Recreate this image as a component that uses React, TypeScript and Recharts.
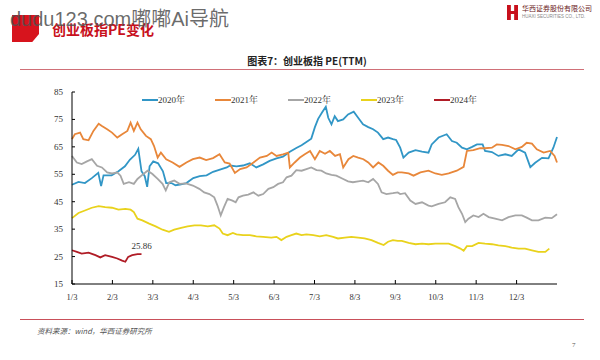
import { LineChart, Line, XAxis, YAxis, Legend } from "recharts";

// trading-day position (tenths of a month from 1/3) and PE value
const PE_2020: [number, number][] = [
  [0, 51.2], [1.6, 52.2], [3.2, 51.8], [4.9, 53.6], [6.5, 55.5], [7.2, 50.7], [7.8, 54.6], [9.8, 54.6],
  [11.5, 56.1], [13.1, 57.9], [14.3, 60.3], [15.6, 62.1], [16.4, 64.3], [17.2, 56.1], [18, 54.3], [18.6, 50.4],
  [19.2, 57.9], [20.1, 59.7], [21.3, 59.0], [22.5, 56.1], [23.3, 51.8], [24.6, 51.8], [25.6, 51.0], [26.7, 51.2],
  [28.3, 51.8], [30, 53.6], [31.6, 54.3], [33.3, 54.6], [34.9, 55.9], [36.6, 56.7], [38.3, 57.5], [39.1, 58.2],
  [40.7, 57.9], [42.3, 58.2], [44, 59.0], [45.6, 57.5], [47.3, 58.6], [48.9, 59.9], [50.6, 60.8], [52.2, 61.4],
  [53.9, 63.2], [55.5, 64.6], [56.8, 65.6], [58, 66.8], [59.2, 68.0], [60.1, 72.2], [60.9, 75.2], [61.9, 77.6],
  [62.8, 79.6], [63.4, 75.6], [64.2, 73.2], [65, 76.2], [65.8, 74.4], [67.1, 75.0], [68.3, 76.8], [69.7, 77.8],
  [70.8, 75.6], [72, 73.2], [73.3, 72.2], [74.5, 71.4], [75.7, 70.2], [77, 67.8], [78.2, 68.4], [79.4, 67.8],
  [80.2, 67.5], [81.2, 64.7], [82, 61.1], [83.3, 62.9], [85, 63.8], [86.6, 63.3], [88.2, 62.9], [89, 65.9],
  [90.7, 68.4], [92.7, 69.6], [94, 67.1], [95.2, 66.5], [96.5, 64.7], [97.7, 64.1], [99, 65.0], [100.2, 65.9],
  [101.6, 65.9], [102.2, 63.5], [103.9, 63.1], [105.5, 61.7], [107.2, 62.3], [108.8, 61.7], [110.5, 64.1], [112.1, 62.9],
  [113.4, 57.6], [114.6, 59.2], [116.3, 61.0], [117.9, 60.8], [119.1, 64.7], [120, 68.6],
];

const PE_2021: [number, number][] = [
  [0, 67.8], [0.7, 69.6], [2, 70.2], [2.8, 67.8], [4.1, 67.4], [5.3, 70.8], [6.6, 73.4], [7.4, 72.6],
  [8.7, 71.4], [9.9, 70.2], [11.2, 68.4], [12.4, 69.6], [13.7, 70.8], [14.5, 73.8], [15.3, 70.8], [16.2, 73.8],
  [17, 71.4], [18.3, 69.0], [19.5, 67.8], [20.3, 65.3], [21.2, 61.1], [22, 62.9], [23.3, 60.5], [24.9, 59.3],
  [26.6, 57.7], [28.3, 59.3], [29.9, 60.5], [31.6, 61.1], [33.2, 60.2], [34.9, 60.9], [36.5, 62.3], [37.8, 59.3],
  [39, 58.9], [40.3, 55.5], [41.6, 56.9], [43.2, 57.5], [44.9, 59.3], [46.5, 61.1], [48.2, 61.7], [49.4, 62.9],
  [50.6, 61.7], [52.2, 62.3], [53.5, 62.9], [53.9, 57.5], [55.1, 59.3], [56.4, 61.1], [57.6, 62.3], [58.9, 63.5],
  [60.1, 60.5], [61.3, 63.5], [62.6, 62.5], [63.8, 63.5], [65.1, 61.7], [66.3, 62.3], [67.1, 57.5], [68.4, 60.5],
  [69.6, 61.7], [70.8, 61.1], [72.1, 60.5], [73.3, 59.3], [74.5, 57.5], [75.8, 59.3], [77, 58.1], [78.2, 56.3],
  [79.4, 54.8], [80.6, 55.7], [81.6, 55.7], [83.3, 55.3], [84.5, 54.5], [86.2, 55.7], [88.2, 56.3], [89.9, 55.3],
  [91.5, 54.8], [93.2, 55.3], [95.2, 56.3], [96.9, 57.7], [97.7, 63.5], [99.3, 63.8], [101, 64.5], [102.2, 64.5],
  [103.9, 64.7], [105.1, 65.9], [106.4, 65.7], [108, 65.3], [109.7, 64.1], [111.3, 65.0], [112.5, 66.5], [113.8, 66.2],
  [115, 64.1], [116.7, 62.9], [118.3, 63.5], [119.4, 61.7], [120, 59.3],
];

const PE_2022: [number, number][] = [
  [0, 61.7], [1.2, 59.3], [2.4, 58.7], [3.7, 59.7], [4.9, 60.5], [6.2, 58.1], [7.4, 57.5], [8.7, 55.7],
  [9.9, 55.3], [11.2, 55.7], [12, 54.5], [12.8, 51.5], [14.1, 52.1], [15.3, 51.5], [16.2, 53.3], [17.4, 54.8],
  [18.7, 56.3], [19.9, 55.1], [21.2, 53.3], [22.4, 51.5], [23.2, 49.1], [24.1, 52.1], [25.3, 52.7], [26.6, 51.5],
  [28.2, 51.7], [29.9, 50.9], [31.5, 49.7], [32.7, 48.4], [34, 47.8], [35.2, 46.6], [36, 43.6], [36.8, 40.0],
  [37.6, 43.0], [38.5, 46.0], [39.7, 45.4], [40.5, 44.8], [41.2, 46.6], [42.3, 47.2], [43.6, 47.6], [44.9, 48.4],
  [46.1, 47.2], [47.3, 47.8], [48.6, 49.7], [49.8, 50.3], [51, 51.5], [52.2, 52.1], [53.1, 53.9], [54.3, 54.5],
  [55.5, 56.5], [56.8, 56.3], [58, 56.9], [59.2, 57.5], [60.5, 56.5], [61.7, 56.3], [62.9, 55.3], [64.2, 54.8],
  [65.4, 54.5], [67.1, 53.3], [68.3, 52.4], [69.5, 52.1], [70.8, 52.4], [72, 52.7], [73.3, 52.1], [74.5, 53.3],
  [75.7, 51.5], [76.6, 48.4], [77.8, 47.8], [79.4, 48.1], [80.6, 48.4], [81.2, 47.8], [82.4, 48.1], [83.7, 45.4],
  [85, 44.2], [86.6, 44.8], [88.2, 43.6], [89, 43.3], [90.7, 44.2], [92.3, 44.8], [93.6, 46.6], [94.8, 46.0],
  [95.6, 43.0], [96.5, 40.6], [97.3, 37.6], [98.1, 38.8], [99.3, 40.0], [100.6, 39.4], [101.8, 40.6], [103.1, 39.4],
  [104.7, 38.8], [106.4, 38.2], [108, 39.4], [109.7, 40.0], [111.3, 40.0], [112.5, 39.2], [113.8, 38.2], [115.4, 38.2],
  [117.1, 39.2], [118.7, 39.0], [120, 40.4],
];

const PE_2023: [number, number][] = [
  [0, 39.0], [1.6, 40.9], [3.2, 41.8], [4.9, 42.8], [6.6, 43.4], [8.2, 43.0], [9.9, 42.8], [11.5, 42.1],
  [13.2, 42.4], [14.5, 42.1], [15.3, 41.2], [16.2, 38.8], [17.4, 38.2], [19.1, 37.0], [20.7, 36.0], [22.4, 34.8],
  [24, 34.0], [25.3, 34.8], [27, 35.5], [28.6, 36.0], [30.3, 36.4], [31.9, 36.4], [33.6, 36.0], [35.2, 36.4],
  [36.5, 35.2], [37.3, 33.4], [38.5, 32.8], [39.8, 33.6], [40.7, 33.1], [42.3, 32.8], [44, 32.8], [45.6, 32.4],
  [47.3, 32.2], [49.3, 31.9], [50.6, 32.2], [51.8, 31.0], [53.1, 32.2], [54.3, 32.8], [55.5, 33.4], [56.8, 32.8],
  [58, 33.1], [59.7, 32.8], [61.3, 32.4], [62.9, 32.8], [64.6, 32.2], [65.8, 31.6], [67.5, 31.9], [69.1, 32.2],
  [70.8, 31.9], [72.4, 31.6], [74.1, 31.0], [75.7, 30.0], [77.1, 29.2], [78.2, 30.4], [79.4, 31.0], [80.6, 30.7],
  [81.6, 30.7], [83.3, 30.0], [85, 29.5], [86.6, 29.7], [88.2, 29.5], [89.9, 29.7], [91.5, 29.7], [93.2, 29.7],
  [94.8, 28.8], [96.1, 27.9], [96.9, 27.1], [97.7, 28.8], [99, 28.8], [100.6, 30.0], [102.2, 29.7], [103.9, 29.5],
  [105.5, 29.1], [107.2, 28.8], [108.8, 28.3], [110.5, 27.9], [112.1, 27.9], [113.8, 27.3], [115.4, 26.7], [117.1, 26.7],
  [118.1, 27.9],
];

const PE_2024: [number, number][] = [
  [0, 27.3], [1.2, 26.7], [2.4, 26.1], [4.1, 26.4], [5.8, 25.5], [7, 24.7], [8.2, 25.5], [9.9, 24.9],
  [11.2, 24.3], [12.4, 23.5], [13.2, 23.1], [13.9, 24.9], [14.9, 25.5], [16.2, 25.9], [17.2, 25.86],
];

const SERIES = [
  { name: "2020年", data: PE_2020, color: "#3196c6" },
  { name: "2021年", data: PE_2021, color: "#e8873a" },
  { name: "2022年", data: PE_2022, color: "#a6a6a6" },
  { name: "2023年", data: PE_2023, color: "#e9d21c" },
  { name: "2024年", data: PE_2024, color: "#b01c26" },
];

const MONTH_LABELS = ["1/3", "2/3", "3/3", "4/3", "5/3", "6/3", "7/3", "8/3", "9/3", "10/3", "11/3", "12/3"];
const X_TICKS = MONTH_LABELS.map((_, i) => i * 10);
const Y_TICKS = [15, 25, 35, 45, 55, 65, 75, 85];

const SERIF = "'Liberation Serif', 'Noto Serif CJK SC', 'Noto Sans CJK SC', serif";
const CJK = "'Noto Sans CJK SC', sans-serif";

const XTick = ({ x, y, payload }: any) => (
  <g>
    <line x1={x} x2={x} y1={y} y2={y - 4} stroke="#000" />
    <text x={x} y={y + 16} textAnchor="middle" fontSize={8.5} fill="#333" fontFamily={SERIF}>
      {MONTH_LABELS[Math.round(payload.value / 10)]}
    </text>
  </g>
);

const YTick = ({ x, y, payload }: any) => (
  <g>
    <line x1={x} x2={x + 3} y1={y} y2={y} stroke="#000" />
    <text x={x - 9} y={y + 3} textAnchor="end" fontSize={9} fill="#333" fontFamily={SERIF}>
      {payload.value}
    </text>
  </g>
);

const LegendContent = ({ payload }: any) => (
  <div style={{ display: "flex" }}>
    {(payload || []).map((e: any) => (
      <div key={e.value} style={{ width: 73, display: "flex", alignItems: "center" }}>
        <span style={{ width: 16, height: 2.5, background: e.color, display: "inline-block" }} />
        <span style={{ fontSize: 9, fontFamily: SERIF, color: "#333", lineHeight: "12px" }}>{e.value}</span>
      </div>
    ))}
  </div>
);

const lastLabel = (p: any) => {
  if (p.index !== PE_2024.length - 1) return <g />;
  return (
    <text x={p.x} y={p.y - 5} textAnchor="middle" fontSize={9} fill="#333" fontFamily={SERIF}>
      {Number(p.value).toFixed(2)}
    </text>
  );
};

export default function App() {
  return (
    <div style={{ position: "absolute", left: 0, top: 0, width: 600, height: 360, background: "#fff", overflow: "hidden" }}>
      {/* header */}
      <div style={{ position: "absolute", left: 12, top: 15, width: 27, height: 27, background: "#d7141d", clipPath: "polygon(0 0, 100% 0, 100% 70%, 75% 100%, 0 100%)" }} />
      <div style={{ position: "absolute", left: 52, top: 20, fontSize: 14, fontWeight: 700, color: "#c8101c", fontFamily: CJK, lineHeight: "18px" }}>
        创业板指PE变化
      </div>
      <div style={{ position: "absolute", left: 10, top: 6, fontSize: 20, color: "rgba(80,80,80,0.85)", fontFamily: "'Liberation Sans', Arial, 'Noto Sans CJK SC', sans-serif", lineHeight: "26px" }}>
        dudu123.com嘟嘟Ai导航
      </div>
      <div style={{ position: "absolute", left: 507, top: 5, width: 11, height: 15, background: "#c8101c", clipPath: "polygon(0 0, 35% 0, 35% 40%, 65% 40%, 65% 0, 100% 0, 100% 100%, 65% 100%, 65% 60%, 35% 60%, 35% 100%, 0 100%)" }} />
      <div style={{ position: "absolute", left: 522, top: 4, fontSize: 7, color: "#6b1a1a", fontFamily: CJK, lineHeight: "9px", whiteSpace: "nowrap" }}>
        华西证券股份有限公司
      </div>
      <div style={{ position: "absolute", left: 522, top: 14, fontSize: 4.5, color: "#888", fontFamily: "'Liberation Sans', sans-serif", lineHeight: "6px", whiteSpace: "nowrap" }}>
        HUAXI SECURITIES CO., LTD.
      </div>
      {/* title */}
      <div style={{ position: "absolute", left: 0, width: 614, top: 54, textAlign: "center", fontSize: 10, fontWeight: 700, color: "#222", fontFamily: CJK, lineHeight: "13px" }}>
        图表7：创业板指 PE(TTM)
      </div>
      <div style={{ position: "absolute", left: 20, top: 69, width: 564, height: 1, background: "#d07078" }} />
      {/* chart */}
      <div style={{ position: "absolute", left: 0, top: 0 }}>
        <LineChart width={600} height={360} margin={{ top: 92, right: 43, bottom: 56, left: 0 }}>
          <XAxis
            type="number"
            dataKey="x"
            domain={[0, 120]}
            ticks={X_TICKS}
            interval={0}
            height={20}
            tickSize={0}
            tickMargin={0}
            tickLine={false}
            axisLine={{ stroke: "#000" }}
            tick={<XTick />}
          />
          <YAxis
            type="number"
            domain={[15, 85]}
            ticks={Y_TICKS}
            interval={0}
            width={72}
            tickSize={0}
            tickMargin={0}
            tickLine={false}
            axisLine={{ stroke: "#000" }}
            tick={<YTick />}
          />
          <Legend
            layout="horizontal"
            verticalAlign="middle"
            align="center"
            content={<LegendContent />}
            wrapperStyle={{ position: "absolute", top: 94, left: 142, width: 380, height: 12 }}
          />
          {SERIES.map((s) => (
            <Line
              key={s.name}
              name={s.name}
              data={s.data.map(([x, v]) => ({ x, v }))}
              dataKey="v"
              type="linear"
              stroke={s.color}
              strokeWidth={1.8}
              dot={false}
              activeDot={false}
              isAnimationActive={false}
              label={s.data === PE_2024 ? lastLabel : undefined}
            />
          ))}
        </LineChart>
      </div>
      {/* footer */}
      <div style={{ position: "absolute", left: 20, top: 319, width: 564, height: 1, background: "#c9505a" }} />
      <div style={{ position: "absolute", left: 37, top: 325, fontSize: 7.5, fontStyle: "italic", color: "#555", fontFamily: CJK, lineHeight: "11px" }}>
        资料来源：wind，华西证券研究所
      </div>
      <div style={{ position: "absolute", left: 572, top: 341, fontSize: 7, color: "#555", fontFamily: SERIF, lineHeight: "9px" }}>
        7
      </div>
    </div>
  );
}
